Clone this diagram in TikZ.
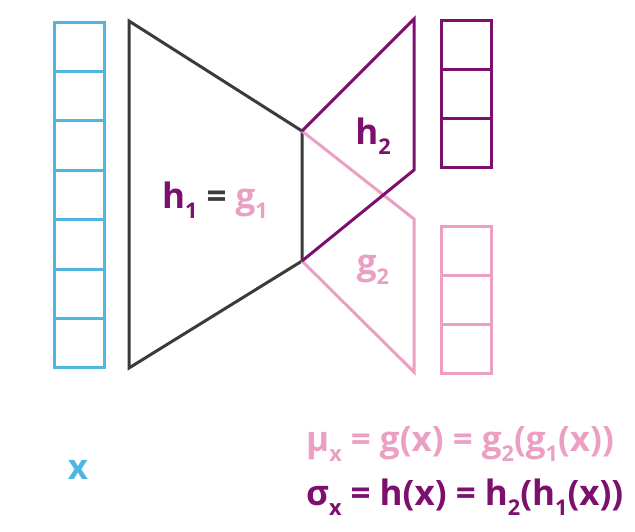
\documentclass[tikz,border=0pt]{standalone}
\usepackage{fontspec}
\setmainfont{Open Sans}
\definecolor{cblue}{HTML}{4DB6E3}
\definecolor{cgray}{HTML}{3C3A3C}
\definecolor{cpurple}{HTML}{7D0F6E}
\definecolor{cpink}{HTML}{EBA0C3}
\newcommand{\sbs}[1]{\raisebox{-0.5ex}{\scalebox{0.62}{#1}}}
\begin{document}
\begin{tikzpicture}[x=1pt,y=-1pt,
  lw/.style={line width=3pt,line join=miter},
  lbl/.style={font=\bfseries\fontsize{35}{40}\selectfont,inner sep=0pt},
  frm/.style={font=\bfseries\fontsize{35}{40}\selectfont,inner sep=0pt,anchor=west}]
\useasboundingbox (0,0) rectangle (635,531);
% input column
\foreach \i in {0,...,6}{
  \draw[lw,cblue] (54,{22+\i*49.4}) rectangle (104,{22+(\i+1)*49.4});
}
% encoder
\draw[lw,cgray] (129,21) -- (302,131) -- (302,261) -- (129,368) -- cycle;
% g2 decoder
\draw[lw,cpink] (302,131) -- (414,219) -- (414,372) -- (302,261);
% h2 decoder
\draw[lw,cpurple] (302,261) -- (414,170) -- (414,19) -- (302,131);
% output columns
\foreach \i in {0,1,2}{
  \draw[lw,cpurple] (441,{20+\i*49.3}) rectangle (491,{20+(\i+1)*49.3});
  \draw[lw,cpink] (441,{226+\i*49.3}) rectangle (491,{226+(\i+1)*49.3});
}
% labels
\node[lbl] (h1g1) at (215,200) {\textcolor{cpurple}{h\sbs{1}} \textcolor{cgray}{=} \textcolor{cpink}{g\sbs{1}}};
\node[lbl,text=cpurple] (h2) at (373,136) {h\sbs{2}};
\node[lbl,text=cpink] (g2) at (373,270) {g\sbs{2}};
\node[lbl,text=cblue] (x) at (78,470) {x};
\node[frm,text=cpink] (mu) at (306,444) {μ\sbs{x} = g(x) = g\sbs{2}(g\sbs{1}(x))};
\node[frm,text=cpurple] (sigma) at (306,497) {σ\sbs{x} = h(x) = h\sbs{2}(h\sbs{1}(x))};
\end{tikzpicture}
\end{document}
